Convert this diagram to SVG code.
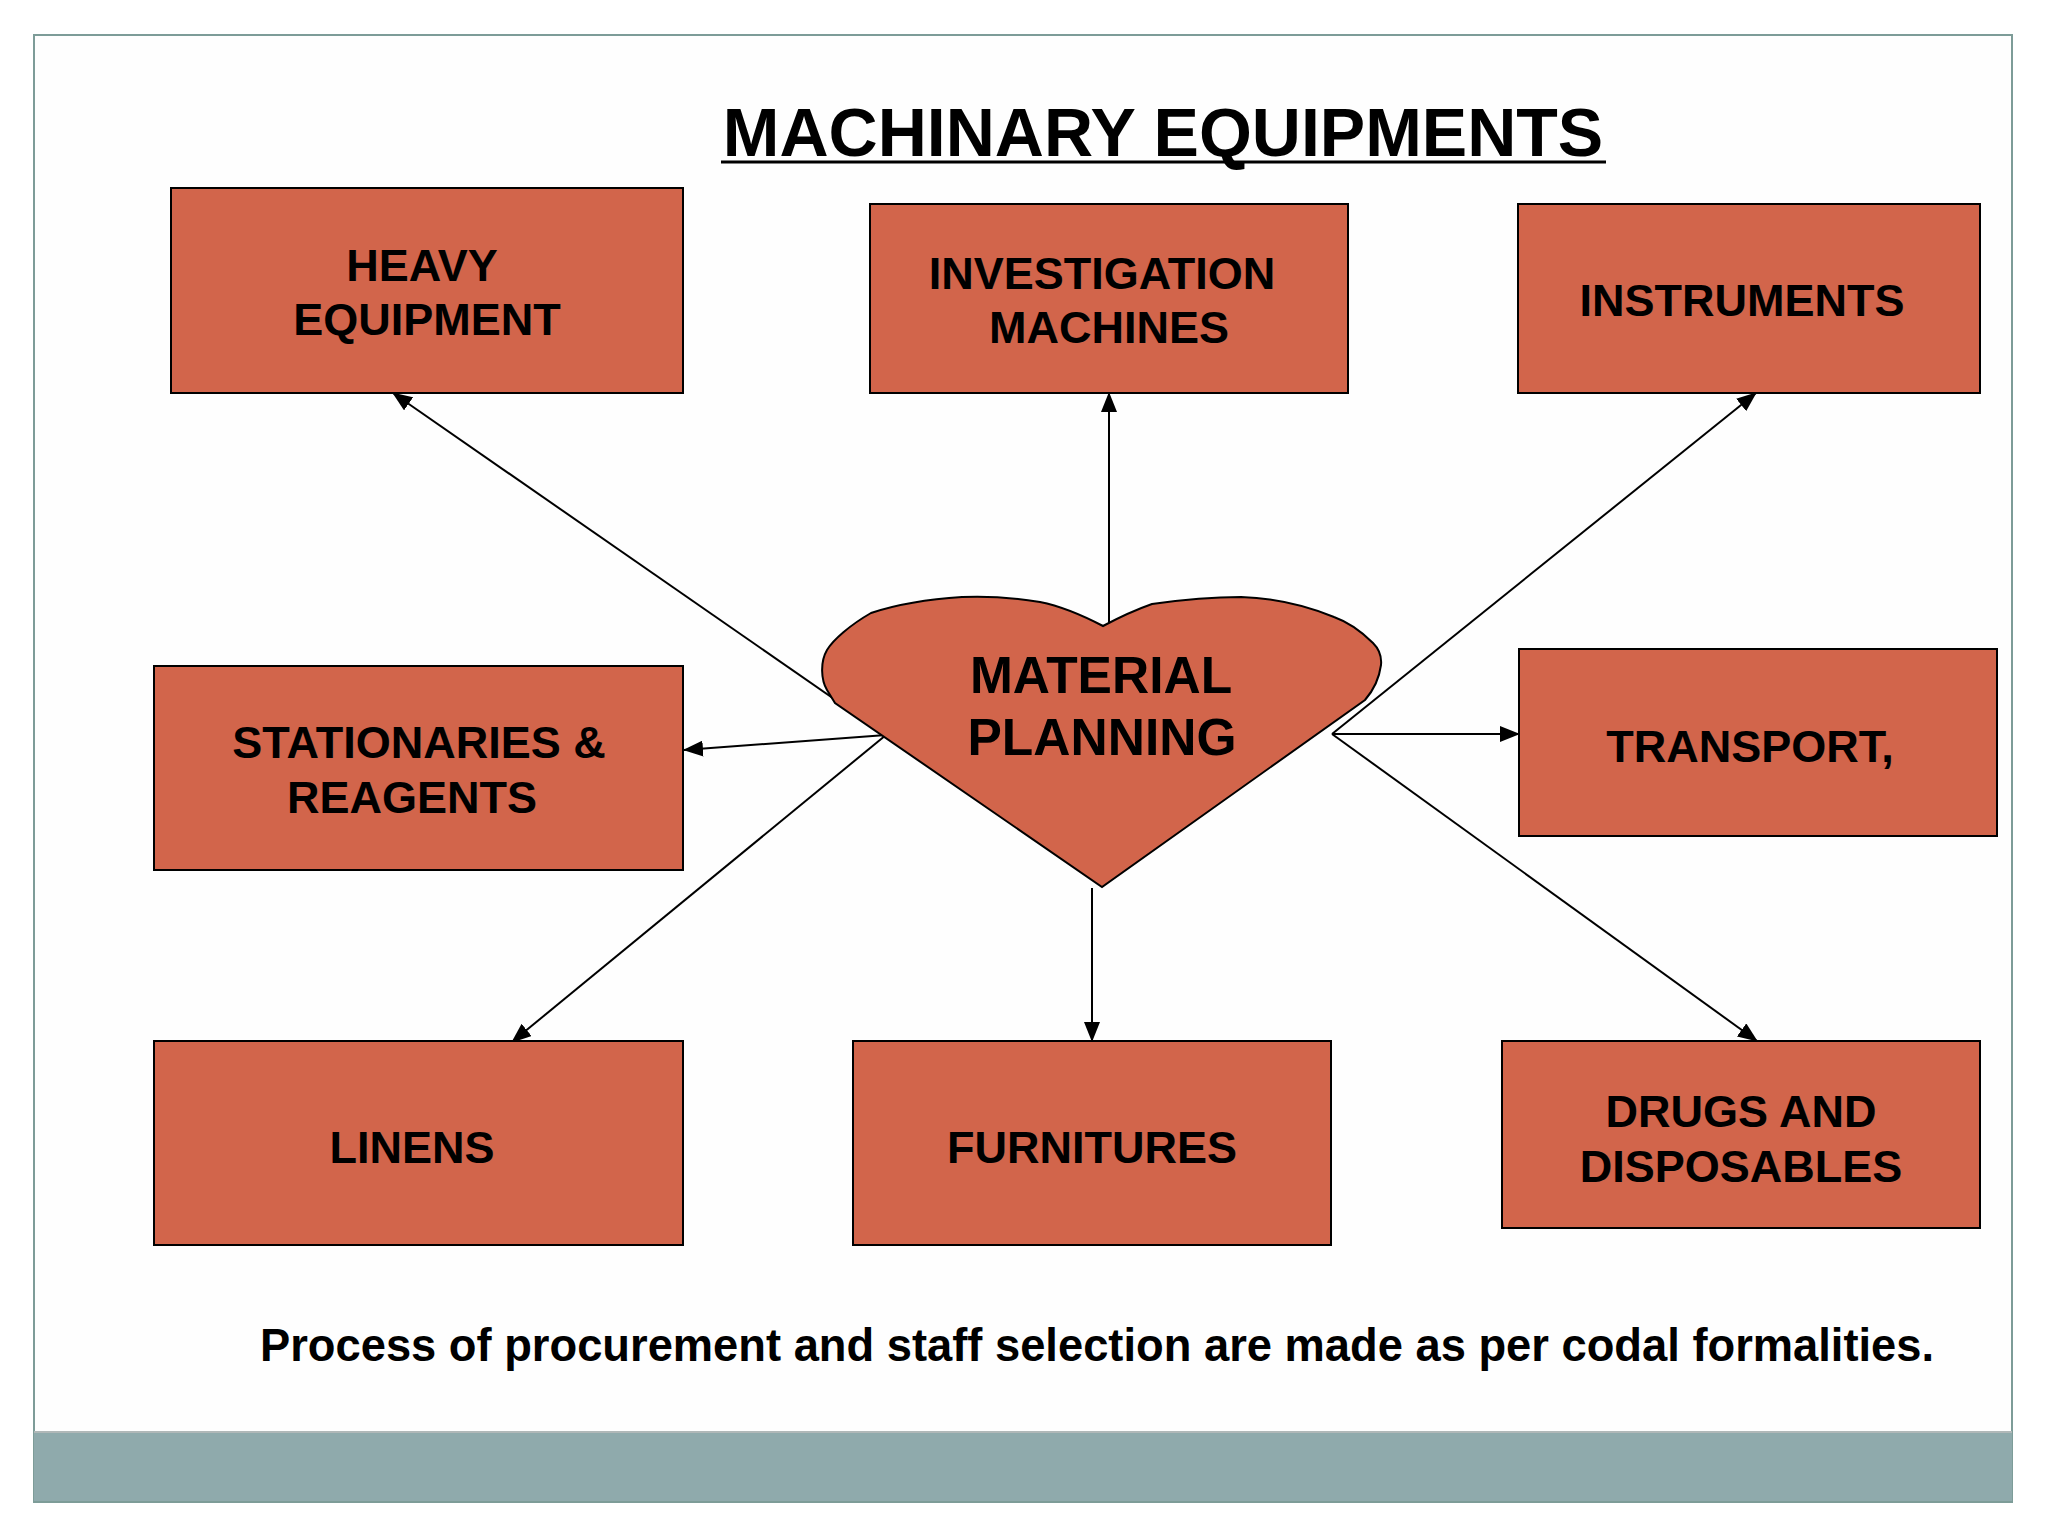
<svg xmlns="http://www.w3.org/2000/svg" width="2048" height="1536" viewBox="0 0 2048 1536">
<style>
.box{fill:#D2654B;stroke:#000;stroke-width:2}
.lbl{font-family:"Liberation Sans",Arial,sans-serif;font-weight:bold;font-size:45px;fill:#000;text-anchor:middle}
.big{font-size:51.5px}
.con{stroke:#000;stroke-width:2;fill:none;marker-end:url(#ah)}
</style>
<defs>
<marker id="ah" markerWidth="20" markerHeight="16" refX="19" refY="8" orient="auto" markerUnits="userSpaceOnUse">
<path d="M0,0 L20,8 L0,16 Z" fill="#000"/>
</marker>
</defs>
<rect x="0" y="0" width="2048" height="1536" fill="#fff"/>
<rect x="34" y="35" width="1978" height="1467" fill="#fefefe" stroke="#7d9c98" stroke-width="2"/>
<rect x="34" y="1432" width="1978" height="70" fill="#8faaac"/>
<line x1="34" y1="1432" x2="2012" y2="1432" stroke="#b0b8b8" stroke-width="2"/>
<line x1="34" y1="1502" x2="2012" y2="1502" stroke="#7d9c98" stroke-width="2"/>

<g id="title">
<text x="1163" y="156" font-family="'Liberation Sans',Arial,sans-serif" font-weight="bold" font-size="68" text-anchor="middle">MACHINARY EQUIPMENTS</text>
<line x1="721" y1="162" x2="1606" y2="162" stroke="#000" stroke-width="3"/>
</g>

<g id="connectors">
<line class="con" x1="886" y1="735" x2="393" y2="393"/>
<line class="con" x1="886" y1="735" x2="684" y2="750"/>
<line class="con" x1="886" y1="735" x2="512" y2="1042"/>
<line class="con" x1="1109" y1="631" x2="1109" y2="393"/>
<line class="con" x1="1092" y1="888" x2="1092" y2="1041"/>
<line class="con" x1="1332" y1="734" x2="1756" y2="393"/>
<line class="con" x1="1332" y1="734" x2="1519" y2="734"/>
<line class="con" x1="1332" y1="734" x2="1757" y2="1041"/>
</g>

<g id="heavy">
<rect class="box" x="171" y="188" width="512" height="205"/>
<text class="lbl" x="422" y="281">HEAVY</text>
<text class="lbl" x="427" y="335">EQUIPMENT</text>
</g>
<g id="investigation">
<rect class="box" x="870" y="204" width="478" height="189"/>
<text class="lbl" x="1102" y="289">INVESTIGATION</text>
<text class="lbl" x="1109" y="343">MACHINES</text>
</g>
<g id="instruments">
<rect class="box" x="1518" y="204" width="462" height="189"/>
<text class="lbl" x="1742" y="316">INSTRUMENTS</text>
</g>
<g id="stationaries">
<rect class="box" x="154" y="666" width="529" height="204"/>
<text class="lbl" x="419" y="758">STATIONARIES &amp;</text>
<text class="lbl" x="412" y="813">REAGENTS</text>
</g>
<g id="transport">
<rect class="box" x="1519" y="649" width="478" height="187"/>
<text class="lbl" x="1750" y="762">TRANSPORT,</text>
</g>
<g id="linens">
<rect class="box" x="154" y="1041" width="529" height="204"/>
<text class="lbl" x="412" y="1163">LINENS</text>
</g>
<g id="furnitures">
<rect class="box" x="853" y="1041" width="478" height="204"/>
<text class="lbl" x="1092" y="1163">FURNITURES</text>
</g>
<g id="drugs">
<rect class="box" x="1502" y="1041" width="478" height="187"/>
<text class="lbl" x="1741" y="1127">DRUGS AND</text>
<text class="lbl" x="1741" y="1182">DISPOSABLES</text>
</g>

<g id="material-planning">
<path class="box" d="M1103,626 C1080,614 1060,606 1040,602 C1010,597 985,596 962,597 C930,599 895,605 871,613 C850,625 833,640 827,650 C820,662 821,680 827,690 L835,703 L1102,887 L1365,700 C1372,692 1379,680 1381,665 C1382,655 1378,648 1373,643 C1360,630 1348,622 1334,617 C1305,605 1272,598 1241,597 C1210,597 1180,600 1152,604 C1135,610 1118,618 1103,626 Z"/>
<text class="lbl big" x="1101" y="693">MATERIAL</text>
<text class="lbl big" x="1102" y="755">PLANNING</text>
</g>

<g id="footer">
<text x="260" y="1361" font-family="'Liberation Sans',Arial,sans-serif" font-weight="bold" font-size="45.3">Process of procurement and staff selection are made as per codal formalities.</text>
</g>
</svg>
